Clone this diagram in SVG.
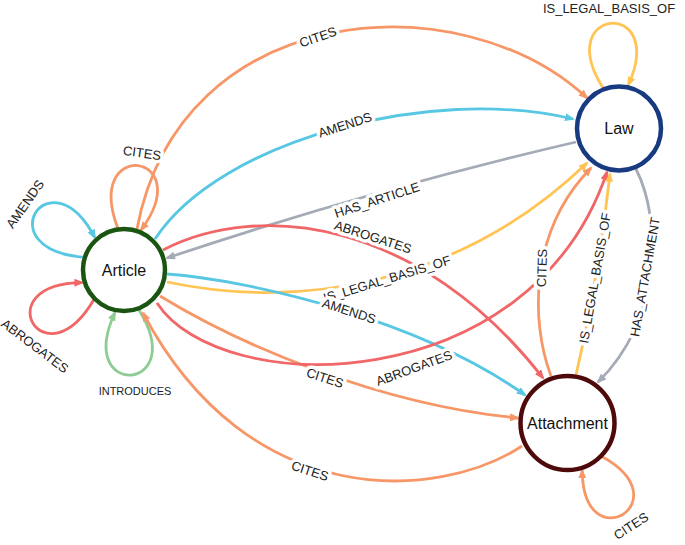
<svg xmlns="http://www.w3.org/2000/svg" width="685" height="545" viewBox="0 0 685 545">
<style>
.e{fill:none;stroke-width:2.8}
.o{stroke:#F79767}.b{stroke:#57C7E3}.r{stroke:#F16667}.y{stroke:#FFC454}.g{stroke:#A5ABB6}.n{stroke:#8DCC93}
.lbl{font-family:"Liberation Sans",Arial,sans-serif;font-size:13px;fill:#222;text-anchor:middle;dominant-baseline:central;paint-order:stroke;stroke:#fff;stroke-width:7px;stroke-linejoin:round}
.nt{font-family:"Liberation Sans",Arial,sans-serif;font-size:16px;fill:#111;text-anchor:middle;dominant-baseline:central}
.nc{fill:#fff;stroke-width:4.5}
</style>
<defs>
<marker id="mO" viewBox="0 0 10 8" refX="8" refY="4" markerWidth="10" markerHeight="8" markerUnits="userSpaceOnUse" orient="auto"><path d="M0,0L10,4L0,8z" fill="#F79767"/></marker>
<marker id="mB" viewBox="0 0 10 8" refX="8" refY="4" markerWidth="10" markerHeight="8" markerUnits="userSpaceOnUse" orient="auto"><path d="M0,0L10,4L0,8z" fill="#57C7E3"/></marker>
<marker id="mR" viewBox="0 0 10 8" refX="8" refY="4" markerWidth="10" markerHeight="8" markerUnits="userSpaceOnUse" orient="auto"><path d="M0,0L10,4L0,8z" fill="#F16667"/></marker>
<marker id="mY" viewBox="0 0 10 8" refX="8" refY="4" markerWidth="10" markerHeight="8" markerUnits="userSpaceOnUse" orient="auto"><path d="M0,0L10,4L0,8z" fill="#FFC454"/></marker>
<marker id="mG" viewBox="0 0 10 8" refX="8" refY="4" markerWidth="10" markerHeight="8" markerUnits="userSpaceOnUse" orient="auto"><path d="M0,0L10,4L0,8z" fill="#A5ABB6"/></marker>
<marker id="mN" viewBox="0 0 10 8" refX="8" refY="4" markerWidth="10" markerHeight="8" markerUnits="userSpaceOnUse" orient="auto"><path d="M0,0L10,4L0,8z" fill="#8DCC93"/></marker>
</defs>
<g id="connectors">
<!-- self loops -->
<path class="e b" marker-end="url(#mB)" d="M85,257.3 C-14.6,250.5 49.8,151.3 94.9,237.7"/>
<path class="e o" marker-end="url(#mO)" d="M118.3,229.4 C81.9,136.5 199.2,151.9 141,230"/>
<path class="e r" marker-end="url(#mR)" d="M94.5,298.5 C44.7,385.4 -15.4,283.4 82.4,282.7"/>
<path class="e n" marker-end="url(#mN)" d="M138,308.5 C191.9,392.4 73.8,400.7 115,312.5"/>
<path class="e y" marker-end="url(#mY)" d="M603.9,89.3 C550.1,6.6 668,-2.6 628.3,85"/>
<path class="e o" marker-end="url(#mO)" d="M600.9,456.1 C684,500.7 582.9,562.2 582.2,470.3"/>
<!-- node-to-node -->
<path class="e o" marker-end="url(#mO)" d="M137,229 C180,0 460,-20 587,98"/>
<path class="e b" marker-end="url(#mB)" d="M155,239 C220,140 430,85 573,119"/>
<path class="e g" marker-end="url(#mG)" d="M576,142 Q370,190 167,258"/>
<path class="e r" marker-end="url(#mR)" d="M163,250 C260,200 420,220 543,378"/>
<path class="e y" marker-end="url(#mY)" d="M167,282 C300,310 460,285 587,163"/>
<path class="e b" marker-end="url(#mB)" d="M167,274 C250,280 420,320 525,395"/>
<path class="e o" marker-end="url(#mO)" d="M160,296 C240,345 380,405 518,418"/>
<path class="e r" marker-end="url(#mR)" d="M157,303 C220,400 530,400 607,172"/>
<path class="e o" marker-end="url(#mO)" d="M551,376 C530,320 530,230 591,168"/>
<path class="e y" marker-end="url(#mY)" d="M576,375 Q598,280 610,174"/>
<path class="e g" marker-end="url(#mG)" d="M636,169 C662,220 662,320 598,382"/>
<path class="e o" marker-end="url(#mO)" d="M522,446 C440,500 250,515 143,313"/>
<!-- labels -->
<text class="lbl" transform="translate(25,204) rotate(-55)">AMENDS</text>
<text class="lbl" transform="translate(142,153) rotate(8)">CITES</text>
<text class="lbl" transform="translate(35,346) rotate(37)">ABROGATES</text>
<text class="lbl" style="font-size:11px" x="135" y="391">INTRODUCES</text>
<text class="lbl" x="609" y="8">IS_LEGAL_BASIS_OF</text>
<text class="lbl" transform="translate(631,526) rotate(-33)">CITES</text>
<text class="lbl" transform="translate(318,37) rotate(-19)">CITES</text>
<text class="lbl" transform="translate(345,125) rotate(-18)">AMENDS</text>
<text class="lbl" transform="translate(377,200) rotate(-18)">HAS_ARTICLE</text>
<text class="lbl" transform="translate(373,237) rotate(18)">ABROGATES</text>
<text class="lbl" transform="translate(387,279) rotate(-17)">IS_LEGAL_BASIS_OF</text>
<text class="lbl" transform="translate(349,311) rotate(18)">AMENDS</text>
<text class="lbl" transform="translate(325,378) rotate(18)">CITES</text>
<text class="lbl" transform="translate(414,368) rotate(-20)">ABROGATES</text>
<text class="lbl" transform="translate(542,268) rotate(-88)">CITES</text>
<text class="lbl" transform="translate(595,278) rotate(-80)">IS_LEGAL_BASIS_OF</text>
<text class="lbl" transform="translate(645,277) rotate(-80)">HAS_ATTACHMENT</text>
<text class="lbl" transform="translate(310,471) rotate(18)">CITES</text>
</g>
<g id="node-article">
<circle class="nc" cx="124" cy="270" r="41" stroke="#1B5512"/>
<text class="nt" x="124" y="270">Article</text>
</g>
<g id="node-law">
<circle class="nc" cx="619" cy="128.5" r="42" stroke="#173A80"/>
<text class="nt" x="619" y="128.5">Law</text>
</g>
<g id="node-attachment">
<circle class="nc" cx="567.5" cy="423" r="47" stroke="#4E0A0A"/>
<text class="nt" x="567.5" y="423">Attachment</text>
</g>
</svg>
